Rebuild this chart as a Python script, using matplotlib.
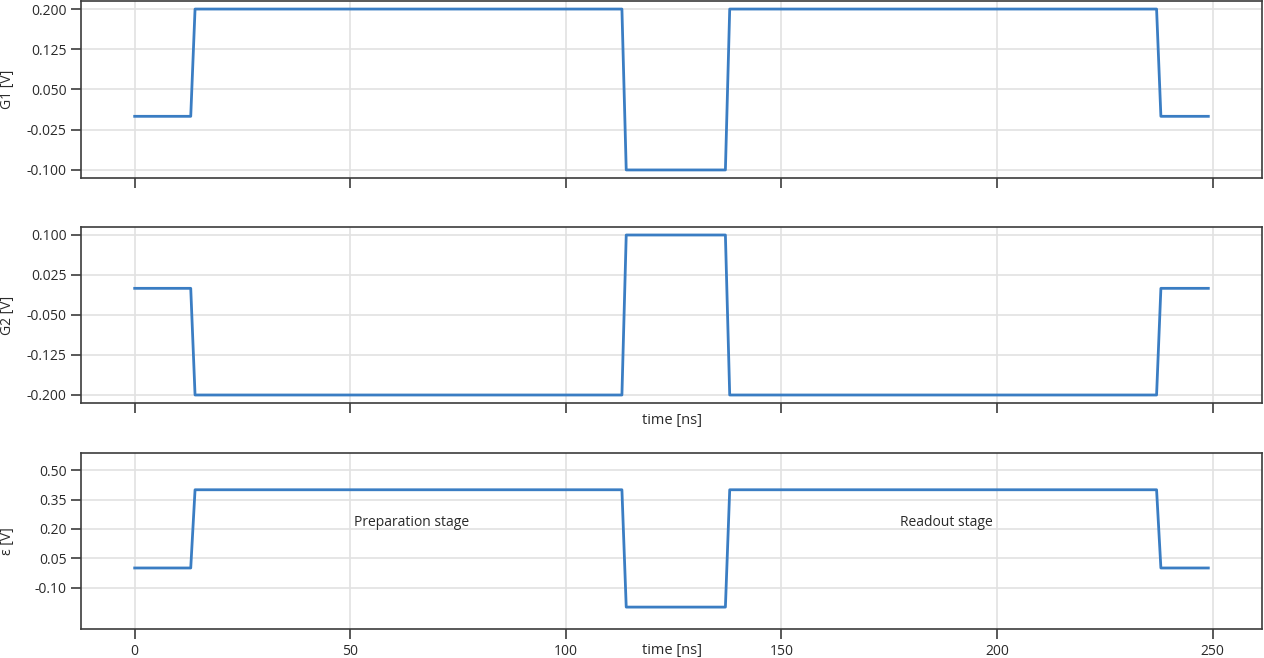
import numpy as np
import matplotlib
matplotlib.use('Agg')
import matplotlib.pyplot as plt
from matplotlib.ticker import FormatStrFormatter

# Pulse data (breakpoints of the piecewise-linear waveforms)
time_ns = [0, 13, 14, 113, 114, 137, 138, 237, 238, 249]
g1_volts = [0.0, 0.0, 0.2, 0.2, -0.1, -0.1, 0.2, 0.2, 0.0, 0.0]
g2_volts = [0.0, 0.0, -0.2, -0.2, 0.1, 0.1, -0.2, -0.2, 0.0, 0.0]
eps_volts = [0.0, 0.0, 0.4, 0.4, -0.2, -0.2, 0.4, 0.4, 0.0, 0.0]

g1_ticks = [-0.100, -0.025, 0.050, 0.125, 0.200]
g2_ticks = [-0.200, -0.125, -0.050, 0.025, 0.100]
eps_ticks = [-0.10, 0.05, 0.20, 0.35, 0.50]
time_ticks = [0, 50, 100, 150, 200, 250]

stage_labels = ['Preparation stage', 'Readout stage']
stage_x = [50.8, 177.4]
stage_y = [0.235, 0.235]

plt.rcParams['font.family'] = ['Open Sans', 'DejaVu Sans']
plt.rcParams['axes.unicode_minus'] = False

line_color = '#3a7dc3'
spine_color = '#3c3c3c'
grid_color = '#e2e2e2'
text_color = '#2a2a2a'

W, H = 1264, 658
fig = plt.figure(figsize=(W / 100, H / 100), dpi=100)


def make_axes(top_px, bottom_px):
    left, right = 81, 1262
    return fig.add_axes([left / W, (H - bottom_px) / H,
                         (right - left) / W, (bottom_px - top_px) / H])


ax1 = make_axes(1, 178)
ax2 = make_axes(227, 403)
ax3 = make_axes(453, 629)

for ax, y, ticks, fmt, label in [
        (ax1, g1_volts, g1_ticks, '%.3f', 'G1 [V]'),
        (ax2, g2_volts, g2_ticks, '%.3f', 'G2 [V]'),
        (ax3, eps_volts, eps_ticks, '%.2f', 'ε [V]')]:
    ax.plot(time_ns, y, color=line_color, lw=2)
    ax.set_yticks(ticks)
    ax.yaxis.set_major_formatter(FormatStrFormatter(fmt))
    ax.set_xticks(time_ticks)
    ax.grid(True, color=grid_color, lw=1.2)
    ax.set_axisbelow(True)
    for s in ax.spines.values():
        s.set_color(spine_color)
        s.set_linewidth(1.2)
    ax.tick_params(axis='both', direction='out', length=7, width=1.2,
                   color=spine_color, labelsize=10, labelcolor=text_color)
    ax.set_ylabel(label, fontsize=10, color=text_color)
    ax.yaxis.set_label_coords(-0.056, 0.5)

ax1.tick_params(axis='x', labelbottom=False)
ax2.tick_params(axis='x', labelbottom=False)

ax3.set_ylim(-0.312, 0.588)

ax2.set_xlabel('time [ns]', fontsize=10.5, color=text_color)
ax2.xaxis.set_label_coords(0.5, -0.055)
ax3.set_xlabel('time [ns]', fontsize=10.5, color=text_color)
ax3.xaxis.set_label_coords(0.5, -0.08)

for lbl, x, y in zip(stage_labels, stage_x, stage_y):
    ax3.text(x, y, lbl, fontsize=10, color=text_color, ha='left', va='center')

fig.savefig('out.png', dpi=100)
